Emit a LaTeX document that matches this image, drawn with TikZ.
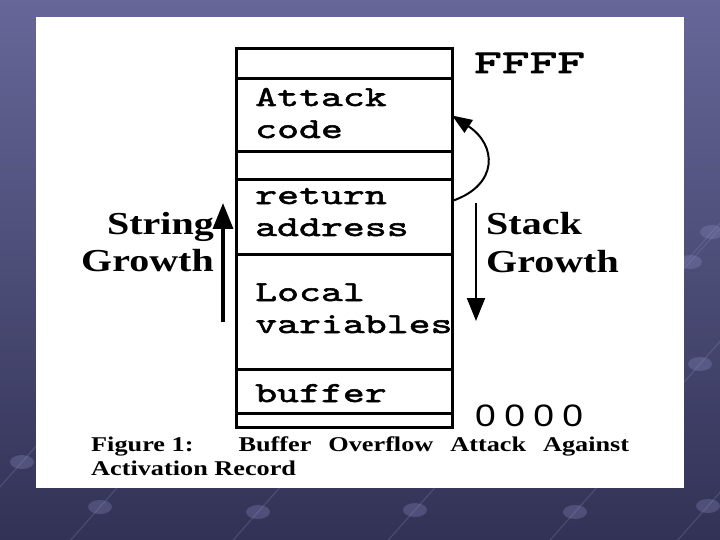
\documentclass[tikz,border=0pt]{standalone}
\usepackage{fontspec}
\usetikzlibrary{positioning,arrows.meta}

\newfontfamily\cellfont[FakeStretch=1.44, FakeBold=1.8]{lmmono10-regular.otf}
\newfontfamily\addrfont[FakeStretch=1.6, FakeBold=2.5]{lmmono10-regular.otf}
\newfontfamily\growfont[FakeStretch=1.25]{Liberation Serif}
\newfontfamily\digitfont[FakeStretch=1.2]{Liberation Sans}

\definecolor{slatetop}{RGB}{102,103,152}
\definecolor{slatebot}{RGB}{50,50,86}
\definecolor{netline}{RGB}{140,142,195}

\begin{document}
\begin{tikzpicture}[x=1pt, y=-1pt,
    cell/.style={draw, line width=3pt, minimum width=216pt, inner sep=0pt, outer sep=0pt},
    celltext/.style={anchor=base west, align=left, inner sep=0pt, font=\cellfont\fontsize{29}{32}\selectfont},
    growth/.style={inner sep=0pt, font=\growfont\bfseries\fontsize{32}{37}\selectfont},
    up/.style={line width=3.5pt, -{Triangle[length=26pt, width=20pt]}},
    down/.style={line width=2pt, -{Triangle[length=23pt, width=18pt]}},
    jump/.style={line width=2pt, -{Triangle[length=20pt, width=15pt]}}]
    \useasboundingbox (0,0) rectangle (720,540);

    % slide background
    \fill[top color=slatetop, bottom color=slatebot] (0,0) rectangle (720,540);
    \foreach \bx/\by in {100/507, 258/512, 415/510, 575/512, 708/506, 690/262, 712/232, 700/364, 22/462} {
        \draw[netline, opacity=0.25, line width=1.2pt] (\bx-40,\by+45) -- (\bx+40,\by-45);
        \fill[netline, opacity=0.3] (\bx,\by) ellipse (12pt and 7pt);
    }
    \fill[white] (36,17) rectangle (684,488);

    % the stack
    \node[cell, minimum height=30pt, anchor=north west] (spare) at (236,49) {};
    \node[cell, minimum height=73pt, below=0pt of spare] (attack) {};
    \node[cell, minimum height=28pt, below=0pt of attack] (gap) {};
    \node[cell, minimum height=74pt, below=0pt of gap] (ret) {};
    \node[cell, minimum height=115pt, below=0pt of ret] (locals) {};
    \node[cell, minimum height=44pt, below=0pt of locals] (buf) {};
    \node[cell, minimum height=14pt, below=0pt of buf] (base) {};

    % base anchor sits on the last line
    \node[celltext] (attacktxt) at ([shift={(19,59)}]attack.north west) {Attack\\code};
    \node[celltext] (rettxt) at ([shift={(19,56)}]ret.north west) {return\\address};
    \node[celltext] (localstxt) at ([shift={(19,79)}]locals.north west) {Local\\variables};
    \node[celltext] (buftxt) at ([shift={(19,33)}]buf.north west) {buffer};

    \node[anchor=base west, inner sep=0pt, font=\addrfont\fontsize{33}{33}\selectfont] (ffff) at (474,73) {FFFF};
    \node[anchor=base west, inner sep=0pt, font=\digitfont\fontsize{31}{31}\selectfont] (zero) at (475,426) {\hbox to 108pt{0\hfil0\hfil0\hfil0}};

    % growth arrows
    \node[growth, anchor=base east, align=right] (string) at (214,271) {String\\Growth};
    \node[growth, anchor=base west, align=left] (stack) at (486,272) {Stack\\Growth};
    \coordinate (sgtail) at (223,322);
    \coordinate (sghead) at (223,203);
    \coordinate (sttail) at (476,203);
    \coordinate (sthead) at (476,321);
    \draw[up] (sgtail) -- (sghead);
    \draw[down] (sttail) -- (sthead);
    \draw[jump] ([yshift=16pt]ret.east) .. controls (499,185) and (497,145) .. (attack.east);

    % caption
    \node[anchor=base west, align=left, inner sep=0pt, font=\growfont\bfseries\fontsize{21}{24}\selectfont] (caption) at (91,475)
        {\hbox to 538pt{Figure 1:\hskip 45pt Buffer\hfil Overflow\hfil Attack\hfil Against}\\Activation Record};
\end{tikzpicture}
\end{document}
